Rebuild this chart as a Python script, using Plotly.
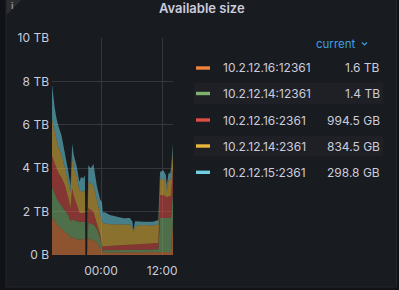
import plotly.graph_objects as go

# ---------------- data ----------------
times = [
    "2023-05-10 14:20", "2023-05-10 14:35", "2023-05-10 14:55", "2023-05-10 15:15",
    "2023-05-10 15:35", "2023-05-10 16:15", "2023-05-10 16:55", "2023-05-10 17:35",
    "2023-05-10 18:00", "2023-05-10 18:20", "2023-05-10 18:40", "2023-05-10 19:15",
    "2023-05-10 19:45", "2023-05-10 20:05", "2023-05-10 20:30", "2023-05-10 20:50",
    "2023-05-10 20:56", "2023-05-10 21:14", "2023-05-10 21:30", "2023-05-10 22:00",
    "2023-05-10 22:30", "2023-05-10 23:10", "2023-05-10 23:50", "2023-05-11 00:10",
    "2023-05-11 00:20", "2023-05-11 00:45", "2023-05-11 01:45", "2023-05-11 03:05",
    "2023-05-11 04:25", "2023-05-11 05:40", "2023-05-11 06:10", "2023-05-11 06:20",
    "2023-05-11 06:40", "2023-05-11 08:20", "2023-05-11 10:15", "2023-05-11 11:15",
    "2023-05-11 11:35", "2023-05-11 12:15", "2023-05-11 12:45", "2023-05-11 12:55",
    "2023-05-11 13:15", "2023-05-11 13:35", "2023-05-11 13:45", "2023-05-11 14:08",
]

# values in TB
s_16_12361 = [1.75, 1.65, 1.55, 1.45, 1.35, 1.20, 1.05, 0.95, 0.75, 0.85, 0.80, 0.72,
              0.70, 0.72, 0.75, 0.75, 0.0, 0.0, 0.78, 0.72, 0.68, 0.60, 0.30, 0.15,
              0.12, 0.12, 0.12, 0.12, 0.12, 0.12, 0.12, 0.12, 0.12, 0.12, 0.12, 0.13,
              0.14, 0.14, 0.14, 0.14, 0.14, 0.14, 0.14, 1.6]
s_14_12361 = [1.40, 1.35, 1.25, 1.20, 1.15, 1.10, 1.00, 0.89, 0.80, 0.80, 0.80, 0.83,
              0.83, 0.81, 0.78, 0.78, 0.0, 0.0, 0.72, 0.73, 0.72, 0.62, 0.48, 0.15,
              0.10, 0.10, 0.10, 0.11, 0.11, 0.12, 0.12, 0.12, 0.12, 0.12, 0.13, 0.13,
              1.56, 1.56, 1.56, 1.56, 1.56, 1.56, 1.58, 1.4]
s_16_2361 = [1.45, 1.40, 1.40, 1.35, 1.30, 1.25, 1.15, 0.76, 0.60, 1.40, 1.10, 0.75,
             0.42, 0.39, 0.42, 0.42, 0.0, 0.0, 0.65, 0.60, 0.59, 0.23, 0.14, 0.15,
             0.16, 0.18, 0.20, 0.21, 0.23, 0.24, 0.24, 0.24, 0.24, 0.26, 0.27, 0.29,
             1.05, 1.05, 1.00, 0.95, 1.00, 1.00, 1.03, 0.9945]
s_14_2361 = [1.70, 1.60, 1.47, 1.30, 1.20, 1.05, 0.80, 0.77, 0.76, 1.41, 1.30, 1.30,
             1.00, 1.03, 0.95, 1.05, 0.0, 0.0, 1.22, 1.25, 1.21, 1.10, 0.92, 1.10,
             1.12, 1.05, 1.00, 0.96, 0.94, 0.92, 0.82, 0.52, 0.87, 0.88, 0.84, 0.85,
             0.70, 0.80, 0.65, 0.30, 0.75, 0.75, 0.90, 0.8345]
s_15_2361 = [1.64, 1.36, 1.09, 1.00, 0.98, 0.90, 0.75, 0.46, 0.29, 0.67, 0.60, 0.46,
             0.42, 0.65, 0.64, 0.68, 0.0, 0.0, 0.77, 0.70, 1.00, 0.65, 0.71, 0.90,
             0.47, 0.52, 0.42, 0.36, 0.29, 0.30, 0.23, 0.15, 0.21, 0.15, 0.17, 0.21,
             0.38, 0.35, 0.33, 0.25, 0.32, 0.32, 0.35, 0.2988]

series_names = ["10.2.12.16:12361", "10.2.12.14:12361", "10.2.12.16:2361",
                "10.2.12.14:2361", "10.2.12.15:2361"]
series_values = [s_16_12361, s_14_12361, s_16_2361, s_14_2361, s_15_2361]
series_colors = ["#EF843C", "#7EB26D", "#E24D42", "#EAB839", "#6ED0E0"]

y_ticks = [0, 2, 4, 6, 8, 10]
y_tick_labels = ["0 B", "2 TB", "4 TB", "6 TB", "8 TB", "10 TB"]
x_ticks = ["2023-05-11 00:00", "2023-05-11 12:00"]
x_tick_labels = ["00:00", "12:00"]
x_range = ["2023-05-10 14:22", "2023-05-11 14:08"]

# ---------------- layout helpers ----------------
W, H = 399, 290
ML, MR, MT, MB = 52, 226, 38, 35
PL, PR, PT, PB = ML, W - MR, MT, H - MB


def px(x):
    return (x - PL) / (PR - PL)


def py(y):
    return (PB - y) / (PB - PT)


def rgba(hex_c, a):
    h = hex_c.lstrip("#")
    r, g, b = int(h[0:2], 16), int(h[2:4], 16), int(h[4:6], 16)
    return f"rgba({r},{g},{b},{a})"


def fmt(v):
    if v >= 1:
        return f"{v:.1f} TB"
    return f"{v * 1000:.1f} GB"


TEXT = "#ccccdc"
FONT = "Inter"

fig = go.Figure()
for name, vals, col in zip(series_names, series_values, series_colors):
    fig.add_trace(go.Scatter(
        x=times, y=vals, name=name, mode="lines",
        stackgroup="one",
        line=dict(color=rgba(col, 0.55), width=0),
        fillcolor=rgba(col, 0.55),
        hoverinfo="skip",
    ))

shapes = []
annotations = []

# panel background & border
shapes.append(dict(type="rect", xref="paper", yref="paper",
                   x0=px(6), x1=px(396.5), y0=py(287), y1=py(-5),
                   fillcolor="#181b1f", line=dict(color="#25272c", width=1),
                   layer="below"))
# corner info triangle
shapes.append(dict(type="path", xref="paper", yref="paper",
                   path=f"M {px(6.5)} {py(0)} L {px(21)} {py(0)} L {px(6.5)} {py(15)} Z",
                   fillcolor="#2b2d33", line=dict(width=0), layer="below"))
annotations.append(dict(text="i", x=px(11.5), y=py(5), xref="paper", yref="paper",
                        showarrow=False, font=dict(family=FONT, size=9, color="#8e9096", weight=700),
                        xanchor="center", yanchor="middle"))

# title
annotations.append(dict(text="Available size", x=px(202), y=py(8), xref="paper", yref="paper",
                        showarrow=False, font=dict(family=FONT, size=13, color=TEXT, weight=600),
                        xanchor="center", yanchor="middle"))

# legend header
annotations.append(dict(text="current", x=px(358), y=py(44), xref="paper", yref="paper",
                        showarrow=False, font=dict(family=FONT, size=11.5, color="#3d9fe0"),
                        xanchor="right", yanchor="middle"))
shapes.append(dict(type="path", xref="paper", yref="paper",
                   path=f"M {px(362)} {py(42.5)} L {px(364.5)} {py(45)} L {px(367)} {py(42.5)}",
                   line=dict(color="#3d9fe0", width=1.2)))

row_y = [68, 93.5, 120, 146, 172.3]
for i, (name, vals, col, ry) in enumerate(zip(series_names, series_values, series_colors, row_y)):
    if i % 2 == 1:
        shapes.append(dict(type="rect", xref="paper", yref="paper",
                           x0=px(194), x1=px(383), y0=py(ry + 10.5), y1=py(ry - 10.5),
                           fillcolor="#1e2025", line=dict(width=0), layer="below"))
    shapes.append(dict(type="rect", xref="paper", yref="paper",
                       x0=px(196), x1=px(210), y0=py(ry + 1.7), y1=py(ry - 1.7),
                       fillcolor=col, line=dict(width=0)))
    annotations.append(dict(text=name, x=px(221), y=py(ry), xref="paper", yref="paper",
                            showarrow=False, font=dict(family=FONT, size=12, color=TEXT),
                            xanchor="left", yanchor="middle"))
    annotations.append(dict(text=fmt(vals[-1]), x=px(381.5), y=py(ry), xref="paper", yref="paper",
                            showarrow=False, font=dict(family=FONT, size=12, color=TEXT),
                            xanchor="right", yanchor="middle"))

fig.update_layout(
    width=W, height=H,
    margin=dict(l=ML, r=MR, t=MT, b=MB, pad=0),
    paper_bgcolor="#111217", plot_bgcolor="rgba(0,0,0,0)",
    showlegend=False,
    font=dict(family=FONT, size=12, color=TEXT),
    shapes=shapes, annotations=annotations,
    xaxis=dict(range=x_range, tickvals=x_ticks, ticktext=x_tick_labels,
               showgrid=True, gridcolor="#35373c", gridwidth=1,
               zeroline=False, showline=False, ticks="",
               tickfont=dict(family=FONT, size=12, color=TEXT), ticklabelstandoff=7),
    yaxis=dict(range=[0, 10], tickvals=y_ticks, ticktext=y_tick_labels,
               showgrid=True, gridcolor="#35373c", gridwidth=1,
               zeroline=False, showline=False, ticks="",
               tickfont=dict(family=FONT, size=12, color=TEXT), ticklabelstandoff=2),
)

fig.write_html("out.html", config={"displayModeBar": False})
